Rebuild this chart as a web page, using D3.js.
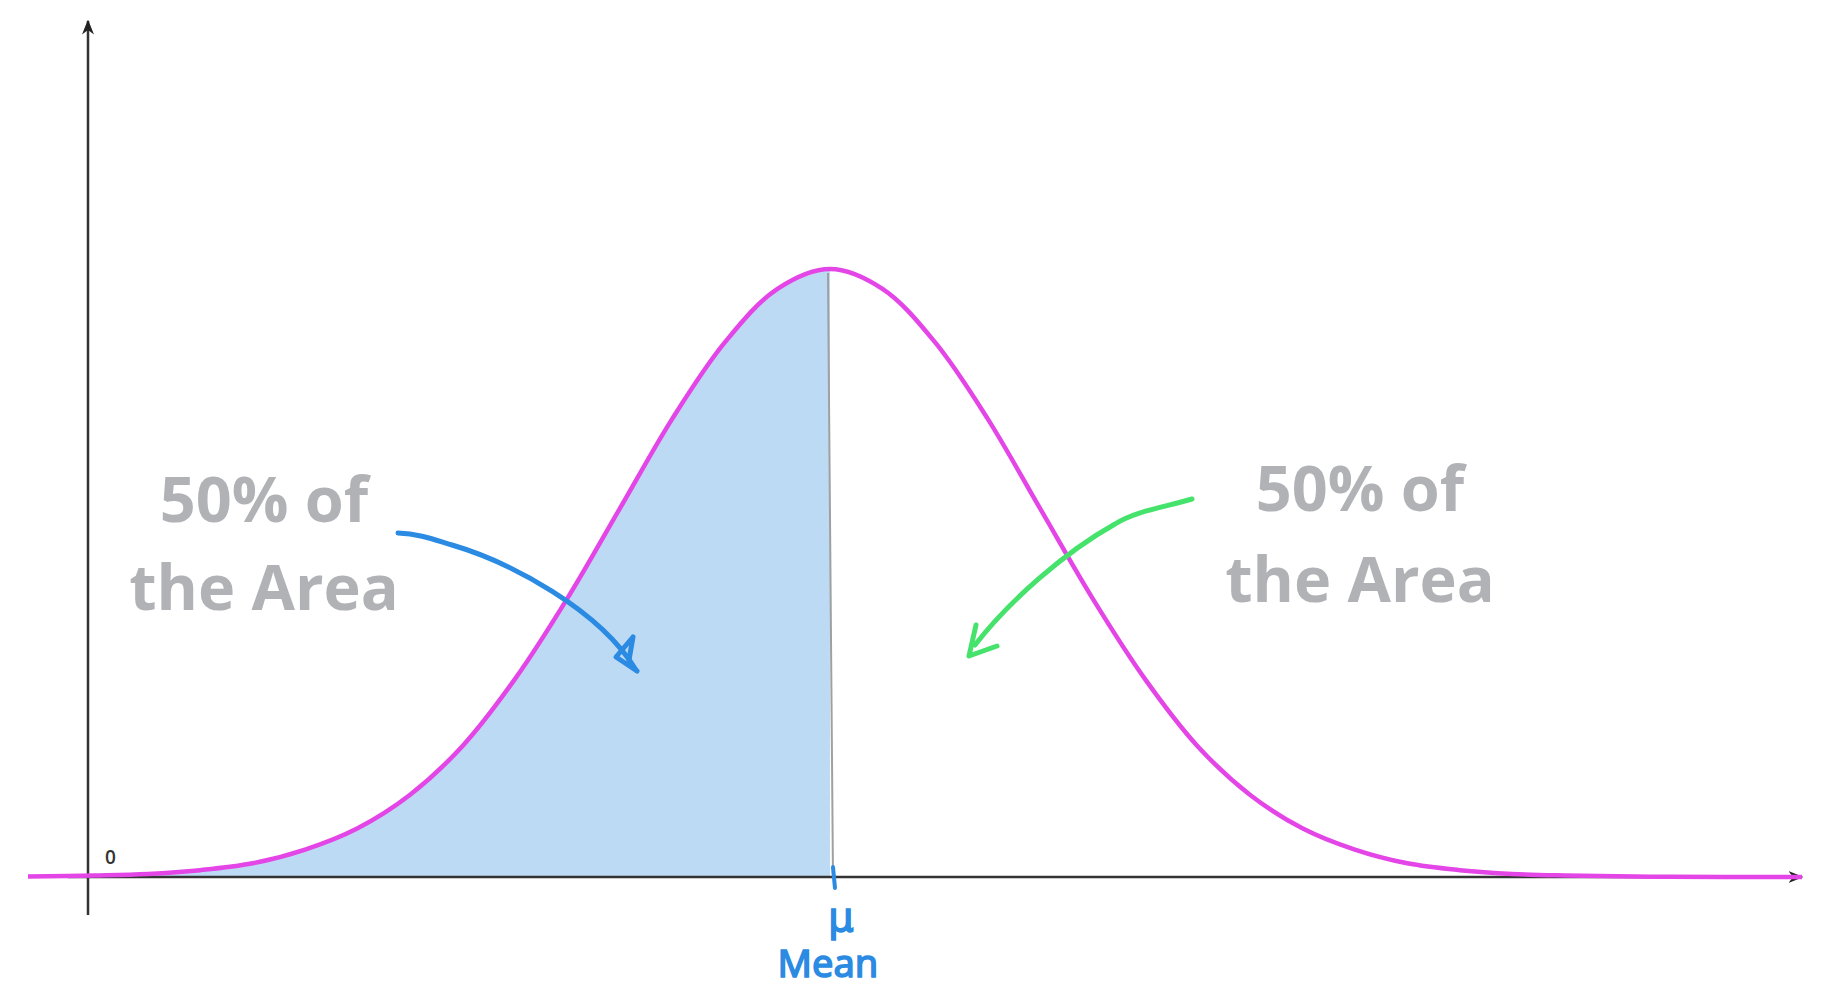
<!DOCTYPE html>
<html>
<head>
<meta charset="utf-8">
<style>
  body { margin: 0; background: #fff; }
  svg { display: block; }
</style>
</head>
<body>
<div id="container"></div>
<script src="https://d3js.org/d3.v7.min.js"></script>
<script>
  // curve: x in standard deviations from the mean, y = density
  const xs = [-3.82, -3.5, -3.25, -3.0, -2.75, -2.5, -2.25, -2.0, -1.75, -1.5, -1.25, -1.0, -0.75, -0.5, -0.25,
              0, 0.25, 0.5, 0.75, 1.0, 1.25, 1.5, 1.75, 2.0, 2.25, 2.5, 2.75, 3.0, 3.25, 3.5, 4.0, 4.63];
  const ys = [0.0003, 0.001, 0.002, 0.0045, 0.009, 0.018, 0.032, 0.054, 0.086, 0.130, 0.183, 0.242, 0.301, 0.351, 0.386,
              0.399, 0.386, 0.351, 0.301, 0.242, 0.183, 0.130, 0.086, 0.054, 0.032, 0.018, 0.009, 0.0045, 0.002, 0.001, 0.0001, 0.0];
  const meanValue = 0;
  const labels = ["50% of", "the Area"];
  const meanLabels = ["μ", "Mean"];

  const W = 1823, H = 1000;
  const x = d3.scaleLinear().domain([-3.82, 4.63]).range([28, 1802]);
  const y = d3.scaleLinear().domain([0, 0.399]).range([877, 269]);

  const points = xs.map((v, i) => ({ x: v, y: ys[i] }));
  const leftHalf = points.filter(p => p.x <= meanValue);

  const svg = d3.select("#container").append("svg")
    .attr("width", W).attr("height", H)
    .attr("viewBox", `0 0 ${W} ${H}`);

  const defs = svg.append("defs");
  defs.append("marker")
    .attr("id", "axisArrow")
    .attr("viewBox", "0 0 10 10")
    .attr("refX", 9).attr("refY", 5)
    .attr("markerWidth", 6).attr("markerHeight", 6)
    .attr("markerUnits", "strokeWidth")
    .attr("orient", "auto")
    .append("path")
    .attr("d", "M0,1 L10,5 L0,9 L3,5 Z")
    .attr("fill", "#222");

  // shaded half
  const area = d3.area()
    .x(d => x(d.x))
    .y0(y(0))
    .y1(d => y(d.y))
    .curve(d3.curveCatmullRom);
  svg.append("path")
    .datum(leftHalf)
    .attr("d", area)
    .attr("fill", "#bddaf5");

  // axes
  svg.append("line")
    .attr("x1", x(-3.82) + 40).attr("x2", x(4.63))
    .attr("y1", y(0)).attr("y2", y(0))
    .attr("stroke", "#333").attr("stroke-width", 2.5)
    .attr("marker-end", "url(#axisArrow)");
  svg.append("line")
    .attr("x1", 88).attr("x2", 88)
    .attr("y1", 915).attr("y2", 21)
    .attr("stroke", "#333").attr("stroke-width", 2.5)
    .attr("marker-end", "url(#axisArrow)");

  svg.append("text")
    .attr("x", 105).attr("y", y(0) - 13)
    .attr("font-family", "Open Sans, sans-serif")
    .attr("font-size", 19).attr("font-weight", 600)
    .attr("fill", "#333")
    .text("0");

  // divider at the mean
  svg.append("line")
    .attr("x1", x(meanValue) - 2).attr("x2", x(meanValue) + 3)
    .attr("y1", y(0.399) + 4).attr("y2", y(0))
    .attr("stroke", "#a0a0a0").attr("stroke-width", 2);

  // the curve
  const line = d3.line()
    .x(d => x(d.x))
    .y(d => y(d.y))
    .curve(d3.curveCatmullRom);
  svg.append("path")
    .datum(points)
    .attr("d", line)
    .attr("fill", "none")
    .attr("stroke", "#e445e6")
    .attr("stroke-width", 4.5);

  // mean tick + labels
  const blue = "#2b8ae2";
  svg.append("line")
    .attr("x1", x(meanValue) + 3).attr("x2", x(meanValue) + 5)
    .attr("y1", y(0) - 10).attr("y2", y(0) + 11)
    .attr("stroke", blue).attr("stroke-width", 4).attr("stroke-linecap", "round");
  svg.append("text")
    .attr("x", x(meanValue) + 11).attr("y", y(0) + 54)
    .attr("text-anchor", "middle")
    .attr("font-family", "DejaVu Sans, sans-serif")
    .attr("font-size", 40)
    .attr("fill", blue).attr("stroke", blue).attr("stroke-width", 1.5)
    .text(meanLabels[0]);
  svg.append("text")
    .attr("x", x(meanValue) - 2).attr("y", y(0) + 100)
    .attr("text-anchor", "middle")
    .attr("font-family", "Noto Sans, sans-serif")
    .attr("font-size", 38)
    .attr("fill", blue).attr("stroke", blue).attr("stroke-width", 1.5)
    .text(meanLabels[1]);

  // annotations
  const grey = "#b1b2b6";
  function note(cx, y1, gap) {
    const t = svg.append("text")
      .attr("text-anchor", "middle")
      .attr("font-family", "Open Sans, sans-serif")
      .attr("font-weight", 700)
      .attr("font-size", 63)
      .attr("fill", grey);
    t.append("tspan").attr("x", cx).attr("y", y1).text(labels[0]);
    t.append("tspan").attr("x", cx).attr("y", y1 + gap).text(labels[1]);
  }
  note(264, 522, 88);
  note(1360, 511, 91);

  // hand-drawn arrows
  const arrow = (d, color) => svg.append("path")
    .attr("d", d)
    .attr("fill", "none")
    .attr("stroke", color)
    .attr("stroke-width", 5)
    .attr("stroke-linecap", "round")
    .attr("stroke-linejoin", "round");

  arrow("M398,533 C420,534 435,540 452,545 C510,562 600,610 636,670", blue);
  arrow("M633,637 L629,660 M633,637 L616,657 L637,671", blue);
  const green = "#45e36b";
  arrow("M1192,499 C1165,507 1135,511 1115,524 C1065,552 1010,600 975,645", green);
  arrow("M976,625 L969,656 L997,646", green);
</script>
</body>
</html>
